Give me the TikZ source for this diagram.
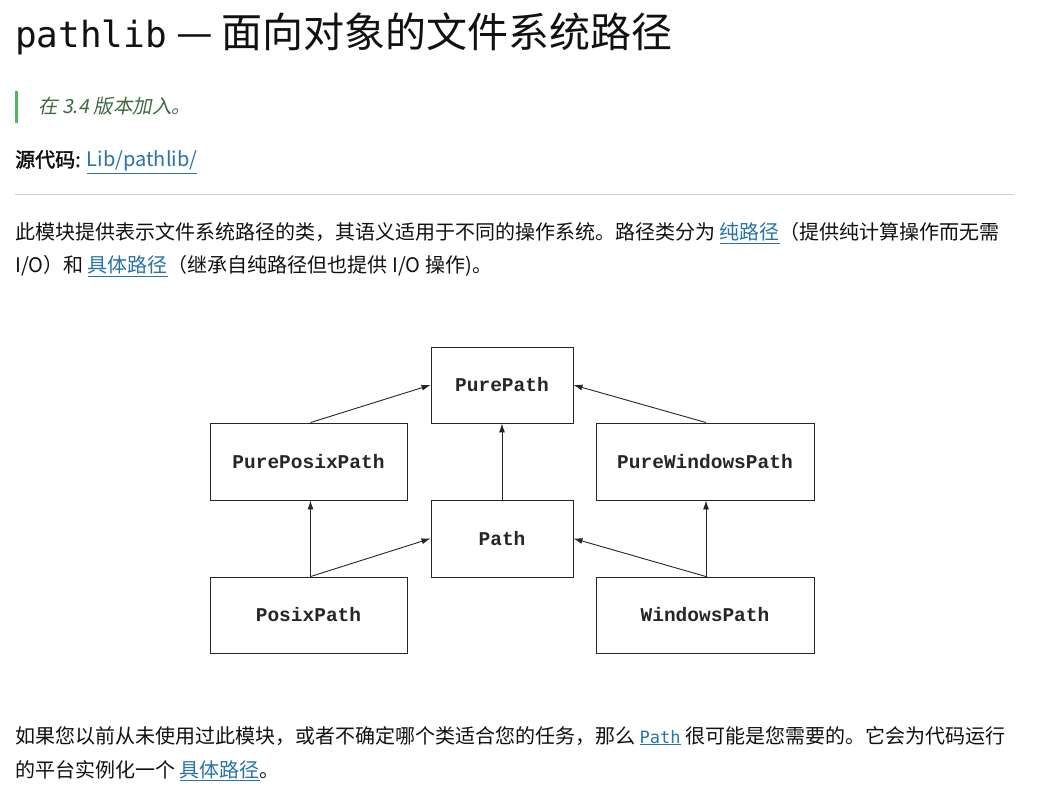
\documentclass[tikz,border=0pt]{standalone}
\usepackage{fontspec}
\setmainfont{Noto Sans CJK SC}
\newfontfamily\itf[FakeSlant=0.2]{Noto Sans CJK SC}
\newfontfamily\bff[FakeBold=2]{Noto Sans CJK SC}
\newfontfamily\titlemono{DejaVu Sans Mono}
\newfontfamily\boxmono{Liberation Mono}
\usetikzlibrary{arrows.meta}
\definecolor{link}{HTML}{2874A6}
\definecolor{vgreen}{HTML}{3E6B3E}
\definecolor{bar}{HTML}{4CBB5A}
\definecolor{txt}{HTML}{111111}
\newcommand{\lk}[1]{\textcolor{link}{\underline{#1}}}
\tikzset{
  cls/.style={draw=black!85, line width=0.9pt, inner sep=0pt, font=\boxmono\bfseries\fontsize{19.5}{22}\selectfont, text=black!85},
  inh/.style={draw=black!85, line width=0.9pt, -{Latex[length=9pt,width=6pt]}},
  body/.style={anchor=base west, inner sep=0pt, font=\fontsize{20}{23}\selectfont, text=txt}
}
\begin{document}
\begin{tikzpicture}[x=1pt,y=-1pt]
\useasboundingbox[fill=white] (0,0) rectangle (1039,791);
\node[body, font=\fontsize{41}{44}\selectfont] (title) at (15,48) {{\titlemono\fontsize{36}{40}\selectfont pathlib} — 面向对象的文件系统路径};
\fill[bar] (15,91) rectangle (18,123);
\node[body, text=vgreen, font=\itf\fontsize{19.5}{22}\selectfont] (added) at (38,114) {在 3.4 版本加入。};
\node[body] (src) at (15,167) {{\bff 源代码:} \lk{Lib/pathlib/}};
\draw[black!20, line width=1pt] (15,195) -- (1014,195);
\node[body] (p1) at (15,240) {此模块提供表示文件系统路径的类，其语义适用于不同的操作系统。路径类分为 \lk{纯路径}（提供纯计算操作而无需};
\node[body] (p2) at (15,273) {I/O）和 \lk{具体路径}（继承自纯路径但也提供 I/O 操作)。};
\node[body] (p3) at (15,743) {如果您以前从未使用过此模块，或者不确定哪个类适合您的任务，那么 \lk{{\titlemono\fontsize{17}{20}\selectfont Path}} 很可能是您需要的。它会为代码运行};
\node[body] (p4) at (15,777) {的平台实例化一个 \lk{具体路径}。};

\node[cls, minimum width=142pt, minimum height=76pt] (pp) at (502,385) {PurePath};
\node[cls, minimum width=197pt, minimum height=77pt] (ppp) at (308.5,461.5) {PurePosixPath};
\node[cls, minimum width=218pt, minimum height=77pt] (pwp) at (705,461.5) {PureWindowsPath};
\node[cls, minimum width=142pt, minimum height=77pt] (path) at (502,538.5) {Path};
\node[cls, minimum width=197pt, minimum height=76pt] (px) at (308.5,615) {PosixPath};
\node[cls, minimum width=218pt, minimum height=76pt] (wp) at (705,615) {WindowsPath};

\draw[inh] (ppp.north) ++(2,0) coordinate (a1) -- (pp.west);
\draw[inh] (pwp.north) ++(1,0) coordinate (a2) -- (pp.east);
\draw[inh] (path.north) -- (pp.south);
\draw[inh] (px.north) ++(2,0) coordinate (a3) -- (a3 |- ppp.south);
\draw[inh] (a3) -- (path.west);
\draw[inh] (wp.north) ++(1,0) coordinate (a4) -- (a4 |- pwp.south);
\draw[inh] (a4) -- (path.east);
\end{tikzpicture}
\end{document}
